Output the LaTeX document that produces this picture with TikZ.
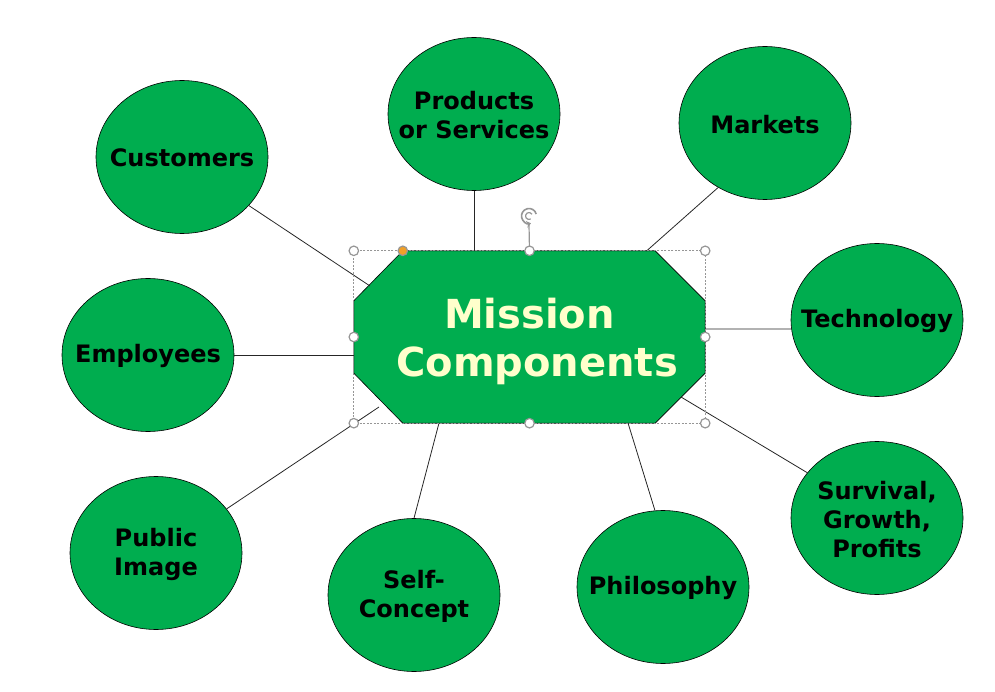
\documentclass[tikz,border=0pt]{standalone}
\usepackage{fontspec}
\setmainfont{DejaVu Sans}
\usetikzlibrary{shapes.geometric,arrows.meta}
\pgfdeclarelayer{background}
\pgfsetlayers{background,main}
\definecolor{mgreen}{RGB}{0,173,79}
\definecolor{mtext}{RGB}{255,255,204}
\definecolor{hgray}{RGB}{150,150,150}
\definecolor{horange}{RGB}{240,160,40}
\begin{document}
\begin{tikzpicture}[x=1pt,y=-1pt,
  comp/.style={ellipse, draw=black, line width=0.6pt, fill=mgreen,
    minimum width=172pt, minimum height=153pt, inner sep=0pt},
  lab/.style={inner sep=0pt, align=center, yshift=-1.2pt,
    font=\fontsize{24}{29}\selectfont\bfseries},
  link/.style={draw=black!85, line width=0.8pt},
  handle/.style={circle, draw=hgray, fill=white, line width=1.2pt,
    minimum size=9.5pt, inner sep=0pt},
  centre/.style={minimum width=351pt, minimum height=172pt, inner sep=0pt},
  centretext/.style={inner sep=0pt, align=center, text=mtext,
    font=\fontsize{40}{48}\selectfont\bfseries}]
\useasboundingbox (0,0) rectangle (995,692);

% central octagon
\node[centre] (mc) at (529.5,337) {};
\begin{pgfonlayer}{background}
\filldraw[fill=mgreen, draw=black, line width=0.6pt]
  ([xshift=49pt]mc.north west) -- ([xshift=-50pt]mc.north east)
  -- ([yshift=-50pt]mc.north east) -- ([yshift=50pt]mc.south east)
  -- ([xshift=-50pt]mc.south east) -- ([xshift=49pt]mc.south west)
  -- ([yshift=50pt]mc.south west) -- ([yshift=-50pt]mc.north west) -- cycle;
\end{pgfonlayer}
\node[centretext] (mct) at ([yshift=-4pt]mc.center) {Mission\\\hspace*{15pt}Components};

% components
\node[comp] (cust) at (182,157) {};
\node[lab] (custt) at (cust) {Customers};
\node[comp] (prod) at (474,114) {};
\node[lab] (prodt) at (prod) {Products\\or Services};
\node[comp] (mark) at (765,123) {};
\node[lab] (markt) at (mark) {Markets};
\node[comp] (tech) at (877,320) {};
\node[lab] (techt) at (tech) {Technology};
\node[comp] (empl) at (148,355) {};
\node[lab] (emplt) at (empl) {Employees};
\node[comp] (surv) at (877,518) {};
\node[lab] (survt) at (surv) {Survival,\\Growth,\\Profits};
\node[comp] (publ) at (156,553) {};
\node[lab] (publt) at (publ) {Public\\Image};
\node[comp] (self) at (414,595) {};
\node[lab] (selft) at (self) {Self-\\Concept};
\node[comp] (phil) at (663,587) {};
\node[lab] (philt) at (phil) {Philosophy};

% connector end points on the octagon
\coordinate (e1) at (370,286);
\coordinate (e2) at (474,251);
\coordinate (e3) at (646.5,251);
\coordinate (e4) at (705,329);
\coordinate (e5) at (354,355);
\coordinate (e6) at (681,397);
\coordinate (e7) at (379,407);
\coordinate (e8) at (439,423);
\coordinate (e9) at (628,423);

\draw[link] (cust.-36.6) -- (e1);
\draw[link] (prod.south) -- (e2);
\draw[link] (mark.-126.5) -- (e3);
\draw[link] (tech.186) -- (e4);
\draw[link] (empl.east) -- (e5);
\draw[link] (surv.147.5) -- (e6);
\draw[link] (publ.32.4) -- (e7);
\draw[link] (self.north) -- (e8);
\draw[link] (phil.96.6) -- (e9);

% selection frame and handles
\draw[hgray, line width=0.7pt, dash pattern=on 2pt off 1.5pt]
  (mc.north west) rectangle (mc.south east);
\coordinate (rot) at (529,216);
\draw[hgray, line width=1.2pt] (529,224.5) -- (mc.north);
\draw[hgray, line width=1.6pt, -{Stealth[length=4.5pt,width=7pt]}]
  (rot) ++(15:7.5pt) arc[start angle=15, end angle=285, radius=7.5pt];
\draw[hgray, line width=1.2pt] (rot) ++(30:3.5pt) arc[start angle=30, end angle=300, radius=3.5pt];
\node[handle] (h1) at (mc.north west) {};
\node[handle] (h2) at (mc.north) {};
\node[handle] (h3) at (mc.north east) {};
\node[handle] (h4) at (mc.east) {};
\node[handle] (h5) at (mc.south east) {};
\node[handle] (h6) at (mc.south) {};
\node[handle] (h7) at (mc.south west) {};
\node[handle] (h8) at (mc.west) {};
\node[handle, fill=horange] (h9) at ([xshift=49pt]mc.north west) {};
\end{tikzpicture}
\end{document}
